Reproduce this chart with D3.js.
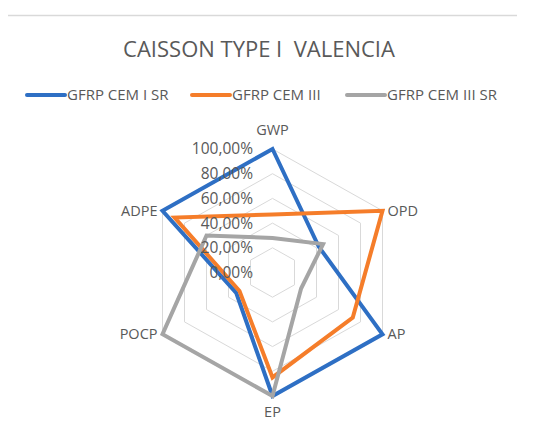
<!DOCTYPE html>
<html>
<head>
<meta charset="utf-8">
<script src="https://cdn.jsdelivr.net/npm/d3@7"></script>
<style>
  body { margin: 0; background: #fff; }
  svg text { font-family: "Open Sans", "Liberation Sans", sans-serif; fill: #595959; }
</style>
</head>
<body>
<script>
// categories (clockwise from top)
var categories = ["GWP", "OPD", "AP", "EP", "POCP", "ADPE"];
var seriesNames = ["GFRP CEM I SR", "GFRP CEM III", "GFRP CEM III SR"];
var cemISR = [1.00, 0.42, 1.00, 1.00, 0.33, 1.00];
var cemIII = [0.47, 1.00, 0.73, 0.85, 0.30, 0.89];
var cemIIISR = [0.28, 0.46, 0.26, 1.00, 1.00, 0.60];
var tickValues = [0, 0.2, 0.4, 0.6, 0.8, 1.0];
var colors = ["#2E6FC4", "#F57D2A", "#A5A5A5"];

var series = [cemISR, cemIII, cemIIISR];

var width = 550, height = 434;
var cx = 272.5, cy = 272.5;

var svg = d3.select("body").append("svg")
    .attr("width", width)
    .attr("height", height);

// borde superior del area del grafico
svg.append("line")
    .attr("x1", 8).attr("x2", 517)
    .attr("y1", 15.5).attr("y2", 15.5)
    .attr("stroke", "#d9d9d9")
    .attr("stroke-width", 1.5);

// titulo
svg.append("text")
    .attr("x", 259)
    .attr("y", 57)
    .style("text-anchor", "middle")
    .style("font-size", "22px")
    .style("white-space", "pre")
    .text("CAISSON TYPE I  VALENCIA");

// escalas
var r = d3.scaleLinear().domain([0, 1]).range([0, 1]);
var rx = 127, ry = 123.5;
var angle = d3.scalePoint().domain(d3.range(categories.length + 1)).range([0, 2 * Math.PI]);

function px(i, v) { return cx + r(v) * rx * Math.sin(angle(i % categories.length)); }
function py(i, v) { return cy - r(v) * ry * Math.cos(angle(i % categories.length)); }

var line = d3.line()
    .x(function(d) { return px(d.i, d.v); })
    .y(function(d) { return py(d.i, d.v); })
    .curve(d3.curveLinearClosed);

// anillos de la rejilla
tickValues.slice(1).forEach(function(t) {
  svg.append("path")
      .attr("d", line(categories.map(function(c, i) { return {i: i, v: t}; })))
      .attr("fill", "none")
      .attr("stroke", "#d9d9d9")
      .attr("stroke-width", 1);
});

// series
series.forEach(function(s, k) {
  svg.append("path")
      .attr("d", line(s.map(function(v, i) { return {i: i, v: v}; })))
      .attr("fill", "none")
      .attr("stroke", colors[k])
      .attr("stroke-width", 4)
      .attr("stroke-linejoin", "miter");
});

// etiquetas de ticks
var fmt = function(t) { return d3.format(".2f")(t * 100).replace(".", ",") + "%"; };
svg.selectAll(".tick")
    .data(tickValues)
    .enter().append("text")
    .attr("class", "tick")
    .attr("x", 253)
    .attr("y", function(t) { return py(0, t); })
    .attr("dy", "0.35em")
    .style("text-anchor", "end")
    .style("font-size", "15.5px")
    .text(fmt);

// etiquetas de categorias
var catPos = [
  {dx: 0, dy: -14, anchor: "middle"},
  {dx: 5, dy: 5, anchor: "start"},
  {dx: 5, dy: 5, anchor: "start"},
  {dx: 0, dy: 21, anchor: "middle"},
  {dx: -5, dy: 5, anchor: "end"},
  {dx: -5, dy: 5, anchor: "end"}
];
svg.selectAll(".cat")
    .data(categories)
    .enter().append("text")
    .attr("class", "cat")
    .attr("x", function(d, i) { return px(i, 1) + catPos[i].dx; })
    .attr("y", function(d, i) { return py(i, 1) + catPos[i].dy; })
    .style("text-anchor", function(d, i) { return catPos[i].anchor; })
    .style("font-size", "14.5px")
    .text(function(d) { return d; });

// leyenda
var legX = [27, 192, 347];
var leg = svg.selectAll(".leg")
    .data(seriesNames)
    .enter().append("g")
    .attr("class", "leg")
    .attr("transform", function(d, i) { return "translate(" + legX[i] + ",95)"; });
leg.append("line")
    .attr("x1", 0).attr("x2", 38)
    .attr("stroke", function(d, i) { return colors[i]; })
    .attr("stroke-width", 4)
    .attr("stroke-linecap", "round");
leg.append("text")
    .attr("x", 40)
    .attr("dy", "0.35em")
    .style("font-size", "15px")
    .text(function(d) { return d; });
</script>
</body>
</html>
